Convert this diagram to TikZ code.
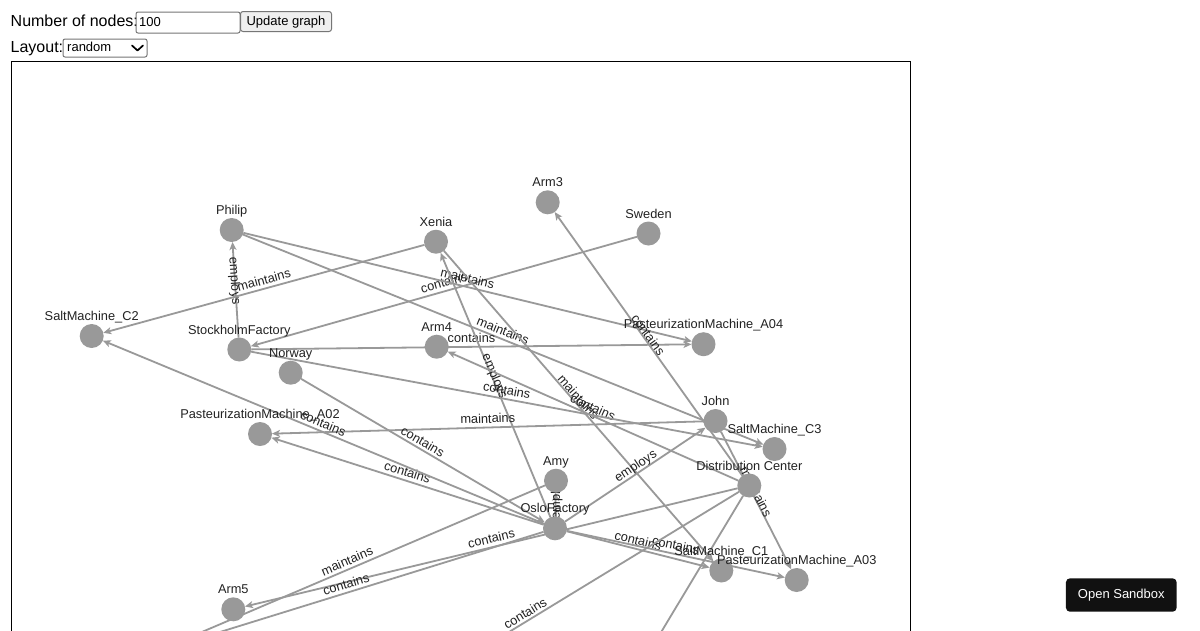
\documentclass[tikz,border=0pt]{standalone}
\usepackage{fontspec}
\setmainfont{Liberation Sans}
\usetikzlibrary{arrows.meta}
\pgfdeclarelayer{back}
\pgfdeclarelayer{bg}
\pgfsetlayers{back,bg,main}
\definecolor{edgec}{HTML}{999999}
\definecolor{nodec}{HTML}{999999}
\definecolor{txt}{HTML}{222222}
\definecolor{ctrlb}{HTML}{767676}
\definecolor{btnfill}{HTML}{EFEFEF}
\definecolor{sbfill}{HTML}{111111}
\newcommand{\fpx}[1]{\fontsize{#1pt}{#1pt}\selectfont}
\newcommand{\gedge}[3]{%
  \draw[glink] (#1) -- (#2);
  \path ([yshift=9pt]#1.center) -- ([yshift=9pt]#2.center) node[elabel,midway,sloped]{#3};}
\tikzset{
  gnode/.style={circle, fill=nodec, minimum size=24pt, inner sep=0pt, outer sep=0pt},
  nlabel/.style={font=\fpx{12.8}, text=txt, inner sep=0pt, text height=9.2pt, text depth=0pt},
  glink/.style={draw=edgec, line width=1.8pt, -{Stealth[length=8pt,width=7pt,inset=2pt]}},
  elabel/.style={font=\fpx{12.8}, text=txt, inner sep=0pt, text height=9.2pt, text depth=0pt, anchor=center},
  ctrltext/.style={inner sep=0pt, anchor=base west, text=black},
}
\begin{document}
\begin{tikzpicture}[x=1pt, y=-1pt, label distance=3.2pt]
\useasboundingbox (0,0) rectangle (1200,630);
\begin{pgfonlayer}{back}
\fill[white] (0,0) rectangle (1200,630);
\end{pgfonlayer}

% ---- top controls ----
\node[ctrltext, font=\fpx{16}] (numlab) at (10.5,26) {Number of nodes:};
\node[draw=ctrlb, line width=1pt, rounded corners=2pt, minimum width=104pt, minimum height=21pt, anchor=north west, inner sep=0pt] (numbox) at (135.5,11.5) {};
\node[ctrltext, font=\fpx{13}] (numval) at (139,26) {100};
\node[draw=ctrlb, fill=btnfill, line width=1pt, rounded corners=2.5pt, minimum width=91pt, minimum height=20pt, inner sep=0pt, font=\fpx{13}, text height=9.4pt, text depth=1.6pt] (upd) at (286,21.5) {Update graph};
\node[ctrltext, font=\fpx{16}] (laylab) at (10.5,52) {Layout:};
\node[draw=ctrlb, line width=1pt, rounded corners=2pt, minimum width=84pt, minimum height=18pt, anchor=north west, inner sep=0pt] (laybox) at (62.5,38.5) {};
\node[ctrltext, font=\fpx{13}] (layval) at (67,51.5) {random};
\draw[black, line width=1.7pt, line cap=round, line join=round] (132,45.5) -- (137.5,50.5) -- (143,45.5);

% ---- graph frame ----
\draw[black, line width=1pt] (11.5,640) -- (11.5,61.5) -- (910.5,61.5) -- (910.5,640);

% ---- graph nodes ----
\node[gnode, label={[nlabel]above:Philip}] (philip) at (231.7,230) {};
\node[gnode, label={[nlabel]above:Xenia}] (xenia) at (436,241.7) {};
\node[gnode, label={[nlabel]above:Arm3}] (arm3) at (547.7,202.3) {};
\node[gnode, label={[nlabel]above:Sweden}] (sweden) at (648.5,233.5) {};
\node[gnode, label={[nlabel]above:SaltMachine\_C2}] (c2) at (91.7,336) {};
\node[gnode, label={[nlabel]above:StockholmFactory}] (stock) at (239.3,349.5) {};
\node[gnode, label={[nlabel]above:Norway}] (norway) at (290.7,372.7) {};
\node[gnode, label={[nlabel]above:Arm4}] (arm4) at (436.7,346.7) {};
\node[gnode, label={[nlabel]above:PasteurizationMachine\_A04}] (a04) at (703.5,344.2) {};
\node[gnode, label={[nlabel]above:John}] (john) at (715.5,421) {};
\node[gnode, label={[nlabel]above:SaltMachine\_C3}] (c3) at (774.5,449) {};
\node[gnode, label={[nlabel]above:PasteurizationMachine\_A02}] (a02) at (260,434) {};
\node[gnode, label={[nlabel]above:Amy}] (amy) at (556,480.7) {};
\node[gnode, label={[nlabel]above:Distribution Center}] (dc) at (749.3,485.5) {};
\node[gnode, label={[nlabel]above:OsloFactory}] (oslo) at (555,528.3) {};
\node[gnode, label={[nlabel]above:SaltMachine\_C1}] (c1) at (721.3,570.5) {};
\node[gnode, label={[nlabel]above:PasteurizationMachine\_A03}] (a03) at (796.7,580) {};
\node[gnode, label={[nlabel]above:Arm5}] (arm5) at (233.3,609.3) {};
% nodes that lie below the visible part
\coordinate (xa) at (138,659.3);
\coordinate (xb) at (137,657.7);
\coordinate (xc) at (300.7,759);
\coordinate (xd) at (488,920);

% ---- links ----
\begin{pgfonlayer}{bg}
\begin{scope}
\clip (12,62) rectangle (910,630);
\gedge{stock}{philip}{employs}
\gedge{xenia}{c2}{maintains}
\gedge{sweden}{stock}{contains}
\gedge{philip}{a04}{maintains}
\gedge{philip}{c3}{maintains}
\gedge{stock}{a04}{contains}
\gedge{dc}{arm3}{contains}
\gedge{oslo}{xenia}{employs}
\gedge{xenia}{c1}{maintains}
\gedge{dc}{arm4}{contains}
\gedge{stock}{c3}{contains}
\gedge{john}{a02}{maintains}
\gedge{oslo}{a02}{contains}
\gedge{oslo}{c2}{contains}
\gedge{norway}{oslo}{contains}
\gedge{oslo}{john}{employs}
\gedge{oslo}{amy}{employs}
\gedge{dc}{arm5}{contains}
\gedge{oslo}{c1}{contains}
\gedge{oslo}{a03}{contains}
\gedge{john}{a03}{maintains}
\gedge{amy}{xa}{maintains}
\gedge{oslo}{xb}{contains}
\gedge{dc}{xc}{contains}
\draw[glink] (dc) -- (xd);
\end{scope}
\end{pgfonlayer}

% ---- sandbox button ----
\node[fill=sbfill, rounded corners=4pt, minimum width=110.7pt, minimum height=33.4pt, inner sep=0pt, text=white, font=\fpx{13}, text height=9.4pt, text depth=2.6pt] (sandbox) at (1121.3,595) {Open Sandbox};
\end{tikzpicture}
\end{document}
